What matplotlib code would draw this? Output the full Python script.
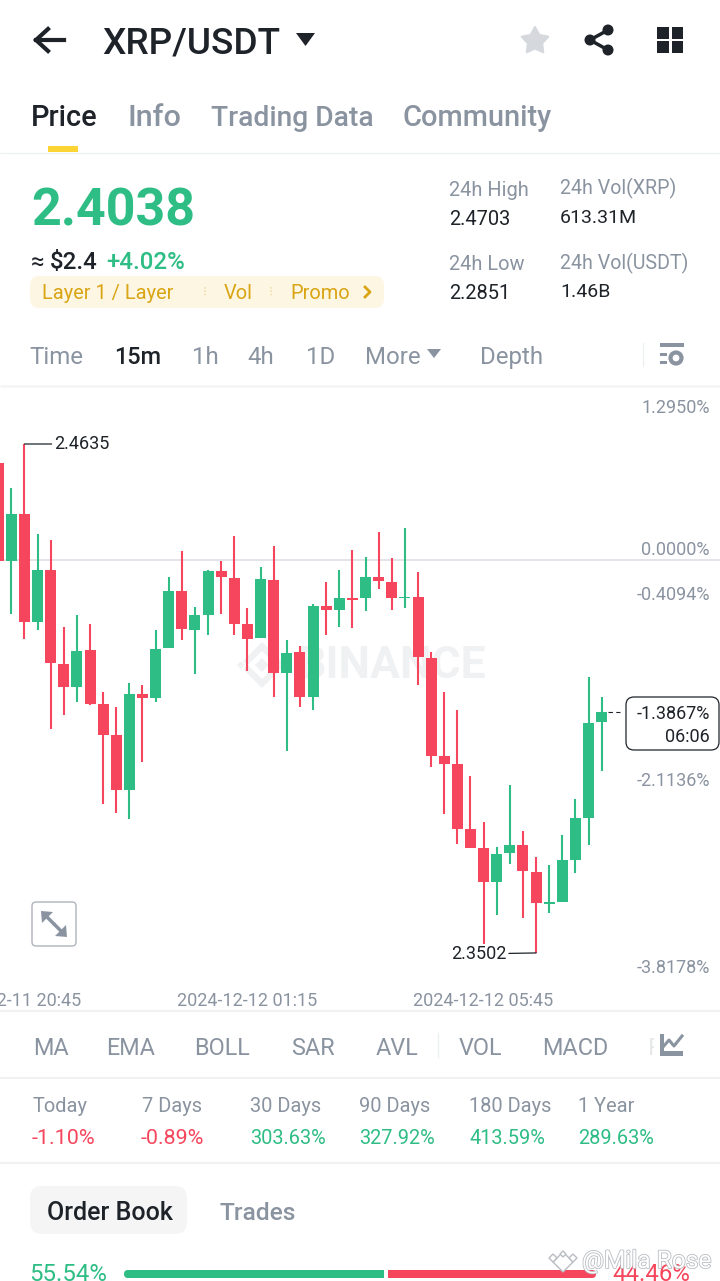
#!/usr/bin/env python3
# -*- coding: utf-8 -*-
import numpy as np
import matplotlib
matplotlib.use('Agg')
import matplotlib.pyplot as plt
from matplotlib.patches import FancyBboxPatch, Polygon, Circle, Rectangle
from matplotlib.transforms import ScaledTranslation
import matplotlib.patheffects as pe

plt.rcParams['font.family'] = ['Roboto', 'DejaVu Sans']

GREEN = '#2EBD85'
RED = '#F6465D'
DARK = '#1E2329'
GREY = '#8A93A0'
LINE = '#EEF0F2'

# 15m candles
opens = [2.4593, 2.4375, 2.4479, 2.4239, 2.4354, 2.4146, 2.4093, 2.4176, 2.4056, 2.3987, 2.3865, 2.4079,
         2.4070, 2.4180, 2.4307, 2.4222, 2.4255, 2.4352, 2.4337, 2.4234, 2.4203, 2.4333, 2.4125, 2.4171,
         2.4072, 2.4275, 2.4265, 2.4293, 2.4292, 2.4339, 2.4328, 2.4292, 2.4295, 2.4159, 2.3941, 2.3922,
         2.3778, 2.3736, 2.3661, 2.3724, 2.3742, 2.3682, 2.3612, 2.3616, 2.3709, 2.3802, 2.4016]
closes = [2.4375, 2.4479, 2.4238, 2.4354, 2.4147, 2.4093, 2.4175, 2.4056, 2.3987, 2.3865, 2.4078, 2.4070,
          2.4179, 2.4307, 2.4223, 2.4255, 2.4352, 2.4338, 2.4234, 2.4202, 2.4335, 2.4125, 2.4170, 2.4072,
          2.4275, 2.4265, 2.4293, 2.4288, 2.4339, 2.4329, 2.4292, 2.4295, 2.4161, 2.3941, 2.3923, 2.3778,
          2.3736, 2.3661, 2.3722, 2.3742, 2.3685, 2.3613, 2.3616, 2.3710, 2.3802, 2.4014, 2.4038]
highs = [2.4593, 2.4536, 2.4635, 2.4435, 2.4421, 2.4228, 2.4254, 2.4235, 2.4082, 2.4049, 2.4102, 2.4098,
         2.4222, 2.4340, 2.4397, 2.4272, 2.4355, 2.4375, 2.4430, 2.4271, 2.4362, 2.4409, 2.4199, 2.4185,
         2.4278, 2.4328, 2.4355, 2.4398, 2.4383, 2.4439, 2.4382, 2.4449, 2.4349, 2.4171, 2.4082, 2.4043,
         2.3896, 2.3793, 2.3738, 2.3876, 2.3774, 2.3716, 2.3697, 2.3764, 2.3845, 2.4116, 2.4072]
lows = [2.4375, 2.4257, 2.4200, 2.4221, 2.4001, 2.4032, 2.4061, 2.4055, 2.3834, 2.3813, 2.3800, 2.3928,
        2.4061, 2.4180, 2.4199, 2.4122, 2.4209, 2.4257, 2.4209, 2.4130, 2.4203, 2.4071, 2.3952, 2.4050,
        2.4043, 2.4209, 2.4228, 2.4225, 2.4264, 2.4313, 2.4265, 2.4270, 2.4099, 2.3916, 2.3811, 2.3745,
        2.3736, 2.3521, 2.3587, 2.3699, 2.3579, 2.3502, 2.3592, 2.3616, 2.3679, 2.3742, 2.3908]

time_ticks = [1, 19, 37]
time_labels = ['2024-12-11 20:45', '2024-12-12 01:15', '2024-12-12 05:45']
pct_ticks = [1.2950, 0.0, -0.4094, -2.1136, -3.8178]
pct_labels = ['1.2950%', '0.0000%', '-0.4094%', '-2.1136%', '-3.8178%']
base_price = 2.4376
last_price = 2.4038
last_pct = '-1.3867%'
max_idx, max_price = 2, 2.4635
min_idx, min_price = 41, 2.3502

tabs = ['Price', 'Info', 'Trading Data', 'Community']
intervals = ['Time', '15m', '1h', '4h', '1D', 'More', 'Depth']
indicators = ['MA', 'EMA', 'BOLL', 'SAR', 'AVL', 'VOL', 'MACD']
periods = ['Today', '7 Days', '30 Days', '90 Days', '180 Days', '1 Year']
period_values = ['-1.10%', '-0.89%', '303.63%', '327.92%', '413.59%', '289.63%']
buy_pct, sell_pct = 55.54, 44.46

W, H = 720, 1281
fig = plt.figure(figsize=(W / 100, H / 100), dpi=100, facecolor='white')

# page furniture is laid out in pixels
ui = fig.add_axes([0, 0, 1, 1], zorder=1)
ui.set_xlim(0, W)
ui.set_ylim(H, 0)
ui.axis('off')


def txt(x, y, s, px, color=DARK, weight='normal', ha='left', **kw):
    return ui.text(x, y, s, fontsize=px * 0.72, color=color, fontweight=weight, ha=ha, va='baseline', **kw)


def hline(y, x0=0, x1=W, color=LINE, lw=1.0):
    ui.plot([x0, x1], [y, y], color=color, lw=lw, solid_capstyle='butt')


def round_box(x0, y0, x1, y1, r, fc, ec='none', lw=0, z=1):
    ui.add_patch(FancyBboxPatch((x0 + r, y0 + r), x1 - x0 - 2 * r, y1 - y0 - 2 * r,
                                boxstyle='round,pad=%f,rounding_size=%f' % (r, r),
                                fc=fc, ec=ec, lw=lw, zorder=z))


def diamond(cx, cy, r, fc, ec='none', lw=0, z=1):
    ui.add_patch(Polygon([(cx, cy - r), (cx + r, cy), (cx, cy + r), (cx - r, cy)], fc=fc, ec=ec, lw=lw, zorder=z))


# header
ui.plot([36, 64], [40, 40], color=DARK, lw=3)
ui.plot([48, 36, 48], [29, 40, 51], color=DARK, lw=3, solid_joinstyle='miter')
txt(102, 53, 'XRP/USDT', 37, weight='medium')
ui.add_patch(Polygon([(296, 33), (315, 33), (305.5, 46)], fc=DARK, ec='none'))
ang = np.pi / 2 + np.arange(10) * np.pi / 5
rad = np.where(np.arange(10) % 2 == 0, 14, 7.5)
ui.add_patch(Polygon(np.c_[535 + rad * np.cos(ang), 41 - rad * np.sin(ang)], fc='#D5D9DE', ec='#D5D9DE', lw=1.5,
                     joinstyle='round'))
for cy in (30, 50):
    ui.plot([590, 608], [40, cy], color=DARK, lw=2.5)
    ui.add_patch(Circle((608, cy), 5.5, fc=DARK, ec='none'))
ui.add_patch(Circle((590, 40), 5.5, fc=DARK, ec='none'))
for gx in (657, 671.5):
    for gy in (27, 41):
        ui.add_patch(Rectangle((gx, gy), 11.5, 12, fc=DARK, ec='none'))

# tabs
for s, x, c, px in zip(tabs, [31, 127, 211, 403], [DARK, GREY, GREY, GREY], [29, 30.5, 28.2, 29]):
    txt(x, 126, s, px, color=c, weight='medium')
ui.add_patch(Rectangle((48, 146), 30, 6, fc='#FCD535', ec='none'))
hline(152.5)

# price block
txt(31, 226, '2.4038', 52, color=GREEN, weight='bold')
txt(31, 269, '≈', 24)
txt(50, 269, '$2.4', 24, weight='medium')
txt(106, 269, '+4.02%', 24, color=GREEN, weight='medium')
round_box(30, 276, 384, 308, 9, '#FDF6E3')
for s, x in zip(['Layer 1 / Layer', 'Vol', 'Promo'], [42, 224, 290.5]):
    txt(x, 299, s, 20, color='#D9A514')
for x in (204.5, 271):
    ui.plot([x, x], [287, 297], color='#EFDFB0', lw=1.2, ls=(0, (1, 1)))
ui.plot([365, 370, 365], [287, 292, 297], color='#D9A514', lw=2)

txt(449, 196, '24h High', 20, color=GREY)
txt(449, 225, '2.4703', 20)
txt(449, 270, '24h Low', 20, color=GREY)
txt(449, 299, '2.2851', 20)
txt(560, 194, '24h Vol(XRP)', 19.7, color=GREY)
txt(560, 223, '613.31M', 19.5)
txt(560, 269, '24h Vol(USDT)', 19.7, color=GREY)
txt(560, 297, '1.46B', 19.5)

# interval bar
for s, x in zip(intervals, [29.5, 114.5, 191.5, 247.5, 305.5, 365, 480]):
    if s == '15m':
        txt(x, 364, s, 23.5, weight='medium')
    else:
        txt(x, 364, s, 24, color=GREY)
ui.add_patch(Polygon([(427, 349), (441, 349), (434, 358)], fc=GREY, ec='none'))
ui.plot([642.5, 642.5], [343, 366], color=LINE, lw=1)
ui.add_patch(Rectangle((660, 343), 24, 3.5, fc=GREY, ec='none'))
ui.add_patch(Rectangle((660, 353), 7, 3, fc=GREY, ec='none'))
ui.add_patch(Rectangle((660, 361), 7, 3, fc=GREY, ec='none'))
ui.add_patch(Circle((676, 358), 5.5, fc='white', ec=GREY, lw=3))
hline(385.5, color='#F5F5F5', lw=2)

# watermark sits under the candles
WM = '#F0F1F2'
diamond(262, 665, 23, WM)
diamond(262, 665, 14, 'white')
diamond(262, 665, 7, WM)
diamond(241, 665, 6, 'white')
diamond(241, 665, 4, WM)
ui.text(392, 666, 'BINANCE', fontsize=32, color=WM, fontweight='bold', ha='center', va='center')

# fullscreen button
round_box(32, 902, 76, 946, 4, 'white', ec='#AEB4BC', lw=1, z=6)
ui.plot([45, 53], [915, 923], color=GREY, lw=2.5, zorder=7)
ui.plot([55, 63], [925, 933], color=GREY, lw=2.5, zorder=7)
ui.add_patch(Polygon([(41, 911), (53, 912), (42, 923)], fc=GREY, ec='none', zorder=7))
ui.add_patch(Polygon([(67, 937), (55, 936), (66, 925)], fc=GREY, ec='none', zorder=7))

# indicators row
hline(1011, color='#F0F1F2', lw=1.5)
for s, x in zip(indicators, [33, 106, 194, 291, 376, 459, 542]):
    txt(x, 1055, s, 23.4, color=GREY)
txt(648, 1055, 'R', 24, color='#E6E8EA')
ui.add_patch(Rectangle((654, 1030), 36, 30, fc='white', ec='none', zorder=4))
ui.plot([437.5, 437.5], [1033, 1057], color=LINE, lw=1)
ui.add_patch(Rectangle((660, 1034), 4, 22, fc=GREY, ec='none', zorder=5))
ui.add_patch(Rectangle((660, 1051), 23, 4.5, fc=GREY, ec='none', zorder=5))
ui.plot([663, 669, 674, 682], [1047, 1040, 1046, 1036], color=GREY, lw=2.2, zorder=5)
hline(1078, color='#F0F1F2', lw=1.5)

for s, v, x in zip(periods, period_values, [33, 142, 250, 359, 469, 578]):
    txt(x, 1112, s, 20, color=GREY)
    if v[0] == '-':
        txt(x - 1, 1144, v, 21.5, color=RED)
    else:
        txt(x, 1144, v, 20, color=GREEN)
hline(1163, color='#F0F1F2', lw=1.5)

round_box(30, 1186, 187, 1234, 12, '#F5F5F5')
txt(47, 1220, 'Order Book', 25, weight='medium')
txt(220, 1220, 'Trades', 24.5, color=GREY, weight='medium')

# buy/sell ratio bar
bar_x0, bar_x1 = 124, 596
gap = 4
split = bar_x0 + (bar_x1 - bar_x0) * buy_pct / (buy_pct + sell_pct)
round_box(bar_x0, 1270, split - gap / 2 + 4, 1278, 4, GREEN)
ui.add_patch(Rectangle((split - gap / 2, 1270), gap + 1, 8, fc='white', ec='none', zorder=2))
round_box(split + gap / 2, 1270, bar_x1, 1278, 4, RED)
ui.add_patch(Rectangle((split + gap / 2, 1270), 5, 8, fc=RED, ec='none', zorder=2))
txt(29, 1281, '%.2f%%' % buy_pct, 24, color=GREEN)
txt(612, 1281, '%.2f%%' % sell_pct, 24, color=RED)

# repost watermark, bottom right
outline = [pe.withStroke(linewidth=1.2, foreground='#B9BDC2')]
t = txt(582, 1268, '@Mila Rose', 24.5, color='white')
t.set_path_effects(outline)
t.set_zorder(8)
for cx, cy, r in [(563, 1262, 10), (553, 1258, 4), (573, 1258, 4), (563, 1254, 3)]:
    diamond(cx, cy, r, 'white', ec='#B9BDC2', lw=1, z=8)

# candle chart, pixel box 0..720 x 386..988
TOP, BOT = 386, 988
PX_PER_UNIT = 4492.0
ax = fig.add_axes([0, 1 - BOT / H, 1, (BOT - TOP) / H], zorder=2)
ax.patch.set_alpha(0)
for sp in ax.spines.values():
    sp.set_visible(False)

SPACING = 13.12
ax.set_xlim(1.82 / SPACING, (W + 1.82) / SPACING)
ax.set_ylim(max_price - (BOT - 444) / PX_PER_UNIT, max_price - (TOP - 444) / PX_PER_UNIT)

x = np.arange(len(opens))
op, cl, hi, lo = map(np.array, (opens, closes, highs, lows))
colors = np.where(cl >= op, GREEN, RED)

ax.axhline(base_price, color='#DADCE3', lw=1.1, zorder=1)
ax.vlines(x, lo, hi, colors=colors, lw=1.5, zorder=2)
ax.bar(x, np.abs(cl - op), bottom=np.minimum(op, cl), width=0.84, color=colors, lw=0, zorder=3)

ax.set_yticks([])
ax.set_xticks(time_ticks)
ax.set_xticklabels(time_labels, fontsize=13, color=GREY)
ax.tick_params(axis='x', length=0, pad=3.2)

# extreme markers
ax.annotate('2.4635', xy=(max_idx, max_price), xytext=(30, 0), textcoords='offset pixels', fontsize=13,
            color=DARK, ha='left', va='center', arrowprops=dict(arrowstyle='-', color=DARK, lw=0.9,
                                                                 shrinkA=0, shrinkB=0))
ax.annotate('2.3502', xy=(min_idx, min_price), xytext=(-30, -1), textcoords='offset pixels', fontsize=13,
            color=DARK, ha='right', va='center', arrowprops=dict(arrowstyle='-', color=DARK, lw=0.9,
                                                                 shrinkA=0, shrinkB=0))

# last price
ax.hlines(last_price, 46.48, 47.4, color=DARK, lw=0.8, ls=(0, (4, 3)), zorder=2)
round_box(626, 697, 719, 750, 8, 'white', ec=DARK, lw=0.9, z=6)
txt(710, 719, last_pct, 18, ha='right', zorder=7)
txt(710, 742, '06:06', 18, ha='right', zorder=7)

# percent scale on the right, labels sit above their level
ax2 = ax.twinx()
ax2.patch.set_alpha(0)
for sp in ax2.spines.values():
    sp.set_visible(False)
lo_y, hi_y = ax.get_ylim()
ax2.set_ylim((lo_y / base_price - 1) * 100, (hi_y / base_price - 1) * 100)
ax2.set_yticks(pct_ticks)
ax2.set_yticklabels(pct_labels, fontsize=13, color=GREY, ha='right', va='bottom')
ax2.tick_params(axis='y', length=0, pad=-10 * 0.72)
shift = ScaledTranslation(0, 1.5 / 100, fig.dpi_scale_trans)
for lab in ax2.get_yticklabels():
    lab.set_transform(lab.get_transform() + shift)

fig.savefig('out.png', dpi=100, facecolor='white')
